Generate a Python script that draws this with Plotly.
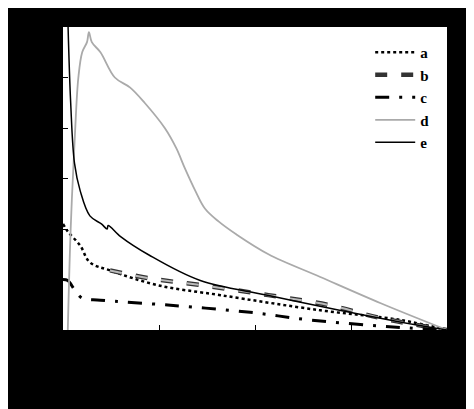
import plotly.graph_objects as go

a_x = [0, 5, 18, 28, 49, 98, 164, 268, 351, 400]
a_y = [21, 19.5, 16.7, 13.4, 11.8, 8.9, 6.9, 3.9, 2.0, 0]
b_x = [49, 91, 143, 214, 278, 330, 400]
b_y = [11.8, 10.2, 8.9, 6.9, 4.9, 2.4, 0]
c_x = [0, 5, 12, 20, 39, 112, 195, 257, 351, 400]
c_y = [10, 9.8, 8.0, 6.3, 5.9, 4.9, 3.5, 2.0, 0.5, 0]
d_x = [5, 8, 12.5, 16, 20, 25, 27, 30, 39, 54, 70, 85, 106, 118, 127, 138, 148, 162, 180, 214, 268, 331, 400]
d_y = [0, 20, 39, 50, 55, 57, 59, 57, 55, 50, 48, 45, 40, 36, 32, 27.5, 24, 21.5, 19, 15, 10.5, 5.3, 0]
e_x = [5, 8, 12, 18, 28, 40, 46, 47, 60, 90, 143, 213, 288, 351, 400]
e_y = [62, 45, 33, 27.5, 22.6, 21, 20, 20.7, 18.5, 14.8, 9.8, 6.9, 3.9, 1.6, 0]

fig = go.Figure()
fig.add_trace(go.Scatter(x=a_x, y=a_y, name="a", mode="lines",
                         line=dict(color="black", width=2.5, dash="dot", shape="spline")))
fig.add_trace(go.Scatter(x=b_x, y=b_y, name="b", mode="lines",
                         line=dict(color="#333", width=4.5, dash="12px,14px", shape="spline")))
fig.add_trace(go.Scatter(x=b_x, y=b_y, showlegend=False, mode="lines", hoverinfo="skip",
                         line=dict(color="#bbb", width=2, dash="12px,14px", shape="spline")))
fig.add_trace(go.Scatter(x=c_x, y=c_y, name="c", mode="lines",
                         line=dict(color="black", width=3, dash="14px,10px,3px,10px", shape="spline")))
fig.add_trace(go.Scatter(x=d_x, y=d_y, name="d", mode="lines",
                         line=dict(color="#aaa", width=1.8, shape="spline")))
fig.add_trace(go.Scatter(x=e_x, y=e_y, name="e", mode="lines",
                         line=dict(color="black", width=1.5, shape="spline")))

axis = dict(showgrid=False, zeroline=False, showline=True, linecolor="black", mirror=True,
            ticks="inside", ticklen=5, tickcolor="black", tickfont=dict(color="black"))
fig.update_layout(
    width=474, height=409, paper_bgcolor="black", plot_bgcolor="white",
    margin=dict(l=55, r=35, t=17, b=87),
    xaxis=dict(range=[0, 400], dtick=100, **axis),
    yaxis=dict(range=[0, 60], dtick=10, **axis),
    legend=dict(x=0.8, y=0.97, bgcolor="rgba(0,0,0,0)",
                font=dict(family="Liberation Serif", size=15, color="black"),
                itemwidth=40, tracegroupgap=6),
    font=dict(family="Liberation Serif", weight="bold"),
)
fig.write_html("out.html")
